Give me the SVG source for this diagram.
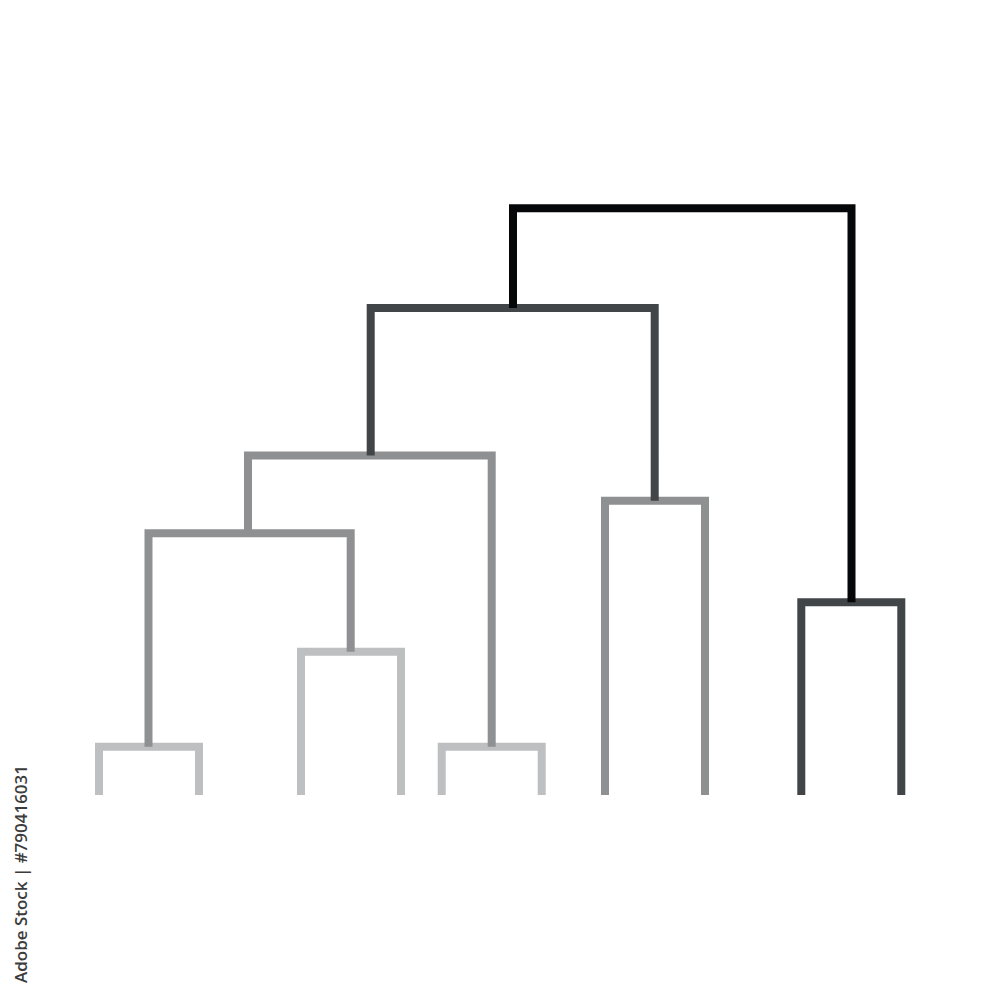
<svg xmlns="http://www.w3.org/2000/svg" width="1000" height="1000" viewBox="0 0 1000 1000">
  <style>
    .br { fill: none; stroke-width: 8; stroke-linejoin: miter; stroke-linecap: butt; }
    .light { stroke: #bebfc1; }
    .mid { stroke: #8f9092; }
    .dark { stroke: #414547; }
    .black { stroke: #060709; }
    .wm { font-family: "Open Sans", "Liberation Sans", sans-serif; font-weight: 600; font-size: 17px; fill: #3c3c3c; }
  </style>
  <rect width="1000" height="1000" fill="#ffffff"/>
  <g id="connectors">
    <g id="leaf-1-2" class="br light"><path d="M99,795 V746.7 H199 V795"/></g>
    <g id="leaf-3-4" class="br light"><path d="M301,795 V651.7 H401 V795"/></g>
    <g id="leaf-5-6" class="br light"><path d="M441.7,795 V746.7 H541.7 V795"/></g>
    <g id="cluster-a" class="br mid"><path d="M148.5,746.7 V533.3 H350.7 V651.7"/></g>
    <g id="cluster-b" class="br mid"><path d="M248,533.3 V455.5 H491.7 V746.7"/></g>
    <g id="leaf-7-8" class="br mid"><path d="M605,795 V500.7 H705 V795"/></g>
    <g id="cluster-c" class="br dark"><path d="M370.7,455.5 V308 H654.7 V500.7"/></g>
    <g id="leaf-9-10" class="br dark"><path d="M801.3,795 V602.3 H901.3 V795"/></g>
    <g id="root" class="br black"><path d="M513,308 V208.3 H851.5 V602.3"/></g>
  </g>
  <text class="wm" x="27" y="983" transform="rotate(-90 27 983)" textLength="218" lengthAdjust="spacingAndGlyphs">Adobe Stock | #790416031</text>
</svg>
